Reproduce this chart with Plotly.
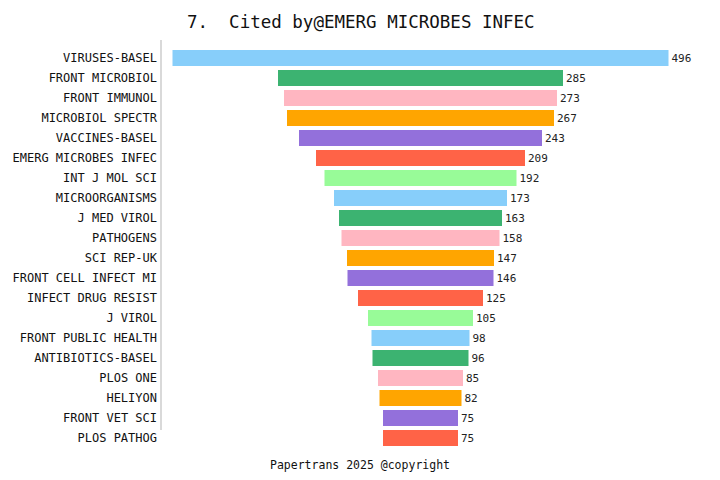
import plotly.graph_objects as go

journals = ['VIRUSES-BASEL', 'FRONT MICROBIOL', 'FRONT IMMUNOL', 'MICROBIOL SPECTR',
            'VACCINES-BASEL', 'EMERG MICROBES INFEC', 'INT J MOL SCI', 'MICROORGANISMS',
            'J MED VIROL', 'PATHOGENS', 'SCI REP-UK', 'FRONT CELL INFECT MI',
            'INFECT DRUG RESIST', 'J VIROL', 'FRONT PUBLIC HEALTH', 'ANTIBIOTICS-BASEL',
            'PLOS ONE', 'HELIYON', 'FRONT VET SCI', 'PLOS PATHOG']
cited = [496, 285, 273, 267, 243, 209, 192, 173, 163, 158,
         147, 146, 125, 105, 98, 96, 85, 82, 75, 75]
palette = ['#87CEFA', '#3CB371', '#FFB6C1', '#FFA500', '#9370DB', '#FF6347', '#98FB98']
colors = [palette[i % len(palette)] for i in range(len(journals))]

mono = "DejaVu Sans Mono"

fig = go.Figure()
fig.add_trace(go.Funnel(
    y=journals,
    x=cited,
    text=cited,
    textinfo='text',
    textposition='outside',
    textfont=dict(family=mono, size=11, color='#222222'),
    marker=dict(color=colors),
    connector=dict(visible=False),
    cliponaxis=False,
    hoverinfo='y+x'
))

fig.update_layout(
    title=dict(text='7.  Cited by@EMERG MICROBES INFEC', x=0.49, xanchor='center',
               y=0.971, yanchor='middle',
               font=dict(family=mono, size=17.5, color='#111111'),
               automargin=False),
    width=720, height=480,
    margin=dict(l=153, r=48, t=40, b=40, autoexpand=False),
    plot_bgcolor='white', paper_bgcolor='white',
    funnelgap=0.2,
    showlegend=False,
)
fig.update_xaxes(visible=False, range=[-259.5, 259.5], automargin=False)
fig.update_yaxes(tickfont=dict(family=mono, size=12, color='#111111'),
                 showline=False, showgrid=False, ticks='', ticklabelstandoff=3,
                 automargin=False)

# light vertical rule beside the labels
fig.add_shape(type='line', xref='paper', yref='paper', x0=0, x1=0, y0=0.045, y1=1.02,
              line=dict(color='#d9d9d9', width=2))

fig.add_annotation(text='Papertrans 2025 @copyright', xref='paper', yref='paper',
                   x=(352 - 153) / 519, y=-0.0425, xanchor='center', yanchor='middle',
                   showarrow=False, font=dict(family=mono, size=11.5, color='#111111'))

fig.write_html("out.html")
